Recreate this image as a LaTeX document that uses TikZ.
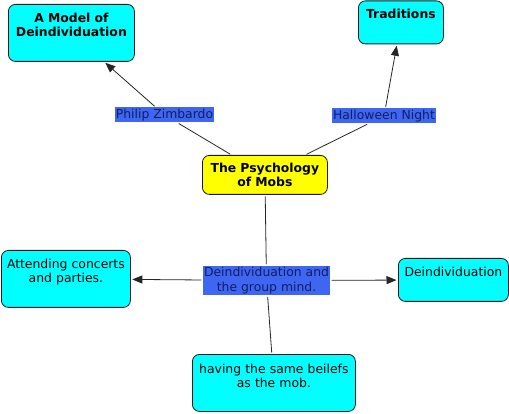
\documentclass[tikz,border=0pt]{standalone}
\usepackage{fontspec}
\setmainfont{DejaVu Sans}
\usepackage{tikz}
\usetikzlibrary{positioning, arrows.meta}
\definecolor{conceptcyan}{HTML}{00FFFF}
\definecolor{rootyellow}{HTML}{FFFF00}
\definecolor{linkblue}{HTML}{3F66F2}
\definecolor{linktext}{HTML}{0F1F5F}
\newcommand{\mapfont}{\fontsize{12.4}{14.5}\selectfont}
\tikzset{
  concept/.style={draw=black!90, line width=0.8pt, rounded corners=7pt, fill=conceptcyan,
    anchor=north west, align=center, inner xsep=0pt, inner ysep=0pt, text height=18pt,
    font=\mapfont},
  linkword/.style={fill=linkblue, text=linktext, align=center, inner xsep=1pt, inner ysep=1.5pt,
    font=\mapfont},
  link/.style={draw=black!85, line width=0.8pt, shorten >=1.5pt, shorten <=1.5pt},
  arrowlink/.style={link, -{Triangle[length=10pt,width=8pt]}}
}
\begin{document}
\begin{tikzpicture}[x=1pt, y=-1pt]
      \useasboundingbox (0,0) rectangle (509,414);

      \node[concept, text width=126pt, text depth=39pt, font=\mapfont\bfseries] (Model) at (8,4) {A Model of\\Deindividuation};
      \node[concept, text width=85pt, text depth=25pt, font=\mapfont\bfseries] (Traditions) at (358,0.5) {Traditions};

      \node[concept, fill=rootyellow, text height=17pt, text width=125pt, text depth=22pt, font=\mapfont\bfseries] (Mobs) at (202,155) {The Psychology\\of Mobs};

      \node[concept, text width=129pt, text depth=39pt] (Concerts) at (1,250) {Attending concerts\\and parties.};
      \node[concept, text width=110pt, text depth=25pt] (Deind) at (398,258) {Deindividuation};
      \node[concept, text height=18.7pt, text width=163pt, text depth=38.3pt] (Beliefs) at (192,354) {having the same beilefs\\as the mob.};

      \node[linkword] (Zimbardo) at (164.5,115) {Philip Zimbardo};
      \node[linkword] (Halloween) at (384,116) {Halloween Night};
      \node[linkword] (GroupMind) at (266.5,280.5) {Deindividuation and\\the group mind.};

      \draw[link] (Mobs) -- (Zimbardo);
      \draw[arrowlink] (Zimbardo) -- (Model);
      \draw[link] (Mobs) -- (Halloween);
      \draw[arrowlink] (Halloween) -- (Traditions);
      \draw[link] (Mobs) -- (GroupMind);
      \draw[arrowlink] (GroupMind) -- (Concerts);
      \draw[arrowlink] (GroupMind) -- (Deind);
      \draw[link] (GroupMind) -- (Beliefs);
    \end{tikzpicture}
\end{document}
